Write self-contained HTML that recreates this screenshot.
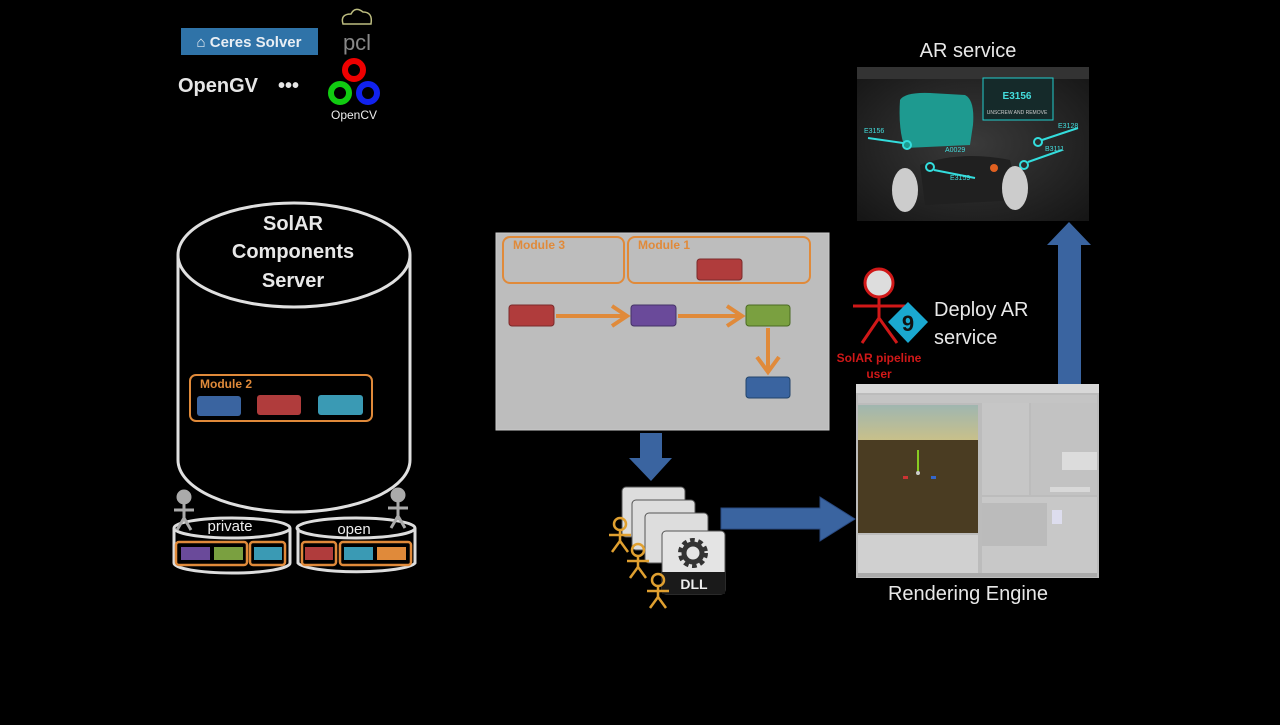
<!DOCTYPE html>
<html><head><style>
body{margin:0;background:#000;width:1280px;height:720px;overflow:hidden;font-family:"Liberation Sans",sans-serif}
</style></head><body>
<svg width="1280" height="720" viewBox="0 0 1280 720" xmlns="http://www.w3.org/2000/svg" font-family="Liberation Sans, sans-serif">
<defs>
<linearGradient id="sky" x1="0" y1="0" x2="0" y2="1"><stop offset="0" stop-color="#9fb6b0"/><stop offset="1" stop-color="#c8c08a"/></linearGradient>
<radialGradient id="bay" cx="0.5" cy="0.5" r="0.7"><stop offset="0" stop-color="#3a3a3a"/><stop offset="1" stop-color="#151515"/></radialGradient>
</defs>
<rect width="1280" height="720" fill="#000"/>
<rect x="181" y="28" width="137" height="27" fill="#2f73a8"/>
<text x="249" y="47" fill="#e8eef4" font-size="15" font-weight="bold" text-anchor="middle">⌂ Ceres Solver</text>
<text x="178" y="92" fill="#e6e6e6" font-size="20" font-weight="bold">OpenGV</text>
<text x="278" y="92" fill="#e6e6e6" font-size="20" font-weight="bold">•••</text>
<path d="M343 24 q-3-10 8-10 q4-8 12-2 q10 0 8 12 z" fill="none" stroke="#bdbd80" stroke-width="1.5"/>
<text x="357" y="50" fill="#888" font-size="22" text-anchor="middle">pcl</text>
<circle cx="354" cy="70" r="9" fill="none" stroke="#e00" stroke-width="6"/>
<circle cx="340" cy="93" r="9" fill="none" stroke="#1c1" stroke-width="6"/>
<circle cx="368" cy="93" r="9" fill="none" stroke="#12e" stroke-width="6"/>
<text x="354" y="119" fill="#eee" font-size="12" text-anchor="middle">OpenCV</text>
<path d="M178 255 L178 460 A116 52 0 0 0 410 460 L410 255" fill="none" stroke="#e0e0e0" stroke-width="3"/>
<ellipse cx="294" cy="255" rx="116" ry="52" fill="none" stroke="#e0e0e0" stroke-width="3"/>
<text x="293" y="230" fill="#e8e8e8" font-size="20" font-weight="bold" text-anchor="middle">SolAR</text>
<text x="293" y="258" fill="#e8e8e8" font-size="20" font-weight="bold" text-anchor="middle">Components</text>
<text x="293" y="287" fill="#e8e8e8" font-size="20" font-weight="bold" text-anchor="middle">Server</text>
<rect x="190" y="375" width="182" height="46" rx="6" fill="none" stroke="#e08a3a" stroke-width="2"/>
<text x="200" y="388" fill="#e08a3a" font-size="12" font-weight="bold">Module 2</text>
<rect x="197" y="396" width="44" height="20" rx="3" fill="#3a64a0"/>
<rect x="257" y="395" width="44" height="20" rx="3" fill="#b03c3c"/>
<rect x="318" y="395" width="45" height="20" rx="3" fill="#3a9ab4"/>
<g fill="none" stroke="#ddd" stroke-width="3">
<path d="M174 528 L174 563 A58 10 0 0 0 290 563 L290 528"/><ellipse cx="232" cy="528" rx="58" ry="10"/>
<path d="M298 528 L298 563 A59 10 0 0 0 415 563 L415 528"/><ellipse cx="356" cy="528" rx="59" ry="10"/>
</g>
<text x="230" y="531" fill="#eee" font-size="15" text-anchor="middle">private</text>
<text x="354" y="534" fill="#eee" font-size="15" text-anchor="middle">open</text>
<g fill="none" stroke="#e08a3a" stroke-width="2.5">
<rect x="176" y="542" width="71" height="23" rx="3"/><rect x="250" y="542" width="35" height="23" rx="3"/>
<rect x="302" y="542" width="34" height="23" rx="3"/><rect x="340" y="542" width="71" height="23" rx="3"/>
</g>
<rect x="181" y="547" width="29" height="13" fill="#6a4a9a"/><rect x="214" y="547" width="29" height="13" fill="#7aa040"/>
<rect x="254" y="547" width="28" height="13" fill="#3a9ab4"/><rect x="305" y="547" width="28" height="13" fill="#b03c3c"/>
<rect x="344" y="547" width="29" height="13" fill="#3a9ab4"/><rect x="377" y="547" width="29" height="13" fill="#e08a3a"/>
<g stroke="#aaa" stroke-width="3" fill="#aaa"><circle cx="184" cy="497" r="6"/><line x1="184" y1="503" x2="184" y2="518"/><line x1="174" y1="510" x2="194" y2="510"/><line x1="184" y1="518" x2="177" y2="530"/><line x1="184" y1="518" x2="191" y2="530"/>
<circle cx="398" cy="495" r="6"/><line x1="398" y1="501" x2="398" y2="516"/><line x1="388" y1="508" x2="408" y2="508"/><line x1="398" y1="516" x2="391" y2="528"/><line x1="398" y1="516" x2="405" y2="528"/></g>
<rect x="496" y="233" width="333" height="197" fill="#bdbdbd" stroke="#ccc"/>
<rect x="503" y="237" width="121" height="46" rx="7" fill="none" stroke="#e08a3a" stroke-width="2"/>
<rect x="628" y="237" width="182" height="46" rx="7" fill="none" stroke="#e08a3a" stroke-width="2"/>
<text x="513" y="249" fill="#e08a3a" font-size="12" font-weight="bold">Module 3</text>
<text x="638" y="249" fill="#e08a3a" font-size="12" font-weight="bold">Module 1</text>
<rect x="697" y="259" width="45" height="21" rx="3" fill="#b03c3c" stroke="#7a2a2a"/>
<rect x="509" y="305" width="45" height="21" rx="3" fill="#b03c3c" stroke="#7a2a2a"/>
<rect x="631" y="305" width="45" height="21" rx="3" fill="#6a4a9a" stroke="#443366"/>
<rect x="746" y="305" width="44" height="21" rx="3" fill="#7aa040" stroke="#4a6a22"/>
<rect x="746" y="377" width="44" height="21" rx="3" fill="#3a64a0" stroke="#22446a"/>
<g stroke="#e08a3a" stroke-width="4" fill="none"><line x1="556" y1="316" x2="626" y2="316"/><polyline points="612,306 627,316 612,326"/>
<line x1="678" y1="316" x2="741" y2="316"/><polyline points="727,306 742,316 727,326"/>
<line x1="768" y1="328" x2="768" y2="370"/><polyline points="757,357 768,372 779,357"/></g>
<polygon points="640,433 662,433 662,458 672,458 651,481 629,458 640,458" fill="#3a64a0"/>
<polygon points="721,508 820,508 820,497 855,519 820,541 820,529 721,529" fill="#3a64a0" stroke="#2a4a80"/>
<polygon points="1058,384 1081,384 1081,245 1091,245 1069,222 1047,245 1058,245" fill="#3a64a0"/>
<g stroke="#555"><rect x="622" y="487" width="63" height="50" rx="4" fill="#ddd"/><rect x="632" y="500" width="63" height="50" rx="4" fill="#ddd"/>
<rect x="645" y="513" width="63" height="50" rx="4" fill="#ddd"/><rect x="662" y="531" width="63" height="63" rx="4" fill="#e4e4e4"/></g>
<rect x="662" y="572" width="63" height="22" fill="#1a1a1a"/>
<text x="694" y="589" fill="#eee" font-size="14" font-weight="bold" text-anchor="middle">DLL</text>
<circle cx="693" cy="553" r="11" fill="none" stroke="#333" stroke-width="8" stroke-dasharray="4 3"/>
<circle cx="693" cy="553" r="9" fill="none" stroke="#333" stroke-width="5"/>
<g stroke="#e0a030" stroke-width="2.5" fill="none">
<circle cx="620" cy="524" r="6"/><line x1="620" y1="530" x2="620" y2="541"/><line x1="609" y1="535" x2="631" y2="535"/><line x1="620" y1="541" x2="612" y2="552"/><line x1="620" y1="541" x2="628" y2="552"/>
<circle cx="638" cy="550" r="6"/><line x1="638" y1="556" x2="638" y2="567"/><line x1="627" y1="561" x2="649" y2="561"/><line x1="638" y1="567" x2="630" y2="578"/><line x1="638" y1="567" x2="646" y2="578"/>
<circle cx="658" cy="580" r="6"/><line x1="658" y1="586" x2="658" y2="597"/><line x1="647" y1="591" x2="669" y2="591"/><line x1="658" y1="597" x2="650" y2="608"/><line x1="658" y1="597" x2="666" y2="608"/></g>
<g stroke="#d01818" stroke-width="3" fill="none"><circle cx="879" cy="283" r="14" fill="#ddd"/><line x1="879" y1="297" x2="879" y2="318"/><line x1="853" y1="306" x2="905" y2="306"/><line x1="879" y1="318" x2="862" y2="343"/><line x1="879" y1="318" x2="897" y2="343"/></g>
<polygon points="908,302 928,322 908,343 888,322" fill="#1aa8d0"/>
<text x="908" y="331" fill="#111" font-size="22" font-weight="bold" text-anchor="middle">9</text>
<text x="879" y="362" fill="#d01818" font-size="12" font-weight="bold" text-anchor="middle">SolAR pipeline</text>
<text x="879" y="378" fill="#d01818" font-size="12" font-weight="bold" text-anchor="middle">user</text>
<text x="934" y="316" fill="#e8e8e8" font-size="20">Deploy AR</text>
<text x="934" y="344" fill="#e8e8e8" font-size="20">service</text>
<text x="968" y="57" fill="#e8e8e8" font-size="20" text-anchor="middle">AR service</text>
<rect x="857" y="67" width="232" height="154" fill="url(#bay)"/>
<rect x="857" y="67" width="232" height="12" fill="#333"/>
<path d="M900 100 Q905 92 930 93 L965 95 Q975 100 973 125 L970 145 L905 148 Q898 130 900 100 Z" fill="#1e9a90"/>
<path d="M920 165 Q960 150 1010 160 L1020 200 L925 205 Z" fill="#202020"/>
<rect x="983" y="78" width="70" height="42" fill="#152a2a" stroke="#2cc"/>
<text x="1017" y="99" fill="#4dd" font-size="10" font-weight="bold" text-anchor="middle">E3156</text>
<text x="1017" y="114" fill="#ccc" font-size="5" text-anchor="middle">UNSCREW AND REMOVE</text>
<g fill="none" stroke="#3dd" stroke-width="2"><circle cx="907" cy="145" r="4"/><circle cx="930" cy="167" r="4"/><circle cx="1024" cy="165" r="4"/><circle cx="1038" cy="142" r="4"/>
<line x1="868" y1="138" x2="903" y2="143"/><line x1="934" y1="170" x2="975" y2="178"/><line x1="1042" y1="140" x2="1078" y2="128"/><line x1="1028" y1="162" x2="1062" y2="150"/></g>
<g fill="#4dd" font-size="7"><text x="864" y="133">E3156</text><text x="945" y="152">A0029</text><text x="950" y="180">E3159</text><text x="1058" y="128">E3128</text><text x="1045" y="151">B3111</text></g>
<ellipse cx="905" cy="190" rx="13" ry="22" fill="#ccc"/><ellipse cx="1015" cy="188" rx="13" ry="22" fill="#ccc"/>
<circle cx="994" cy="168" r="4" fill="#e06020"/>
<rect x="856" y="384" width="243" height="194" fill="#bcbcbc"/>
<rect x="856" y="384" width="243" height="9" fill="#d8d8d8"/>
<rect x="858" y="395" width="239" height="8" fill="#c4c4c4"/>
<rect x="858" y="405" width="120" height="35" fill="url(#sky)"/>
<rect x="858" y="440" width="120" height="93" fill="#4a3c22"/>
<line x1="918" y1="450" x2="918" y2="475" stroke="#8c2" stroke-width="2"/>
<circle cx="918" cy="473" r="2" fill="#ccc"/><rect x="903" y="476" width="5" height="3" fill="#c33"/><rect x="931" y="476" width="5" height="3" fill="#36c"/>
<rect x="982" y="403" width="47" height="92" fill="#c6c6c6"/>
<rect x="1031" y="403" width="66" height="92" fill="#c2c2c2"/>
<rect x="1062" y="452" width="35" height="18" fill="#dcdcdc"/>
<rect x="1050" y="487" width="40" height="5" fill="#d8d8d8"/>
<rect x="982" y="497" width="115" height="76" fill="#c8c8c8"/>
<rect x="982" y="503" width="65" height="43" fill="#bbb"/>
<rect x="1052" y="510" width="10" height="14" fill="#dde"/>
<rect x="858" y="535" width="120" height="38" fill="#d0d0d0"/>
<rect x="858" y="573" width="239" height="4" fill="#aaa"/>
<text x="968" y="600" fill="#e8e8e8" font-size="20" text-anchor="middle">Rendering Engine</text>
</svg>
</body></html>
